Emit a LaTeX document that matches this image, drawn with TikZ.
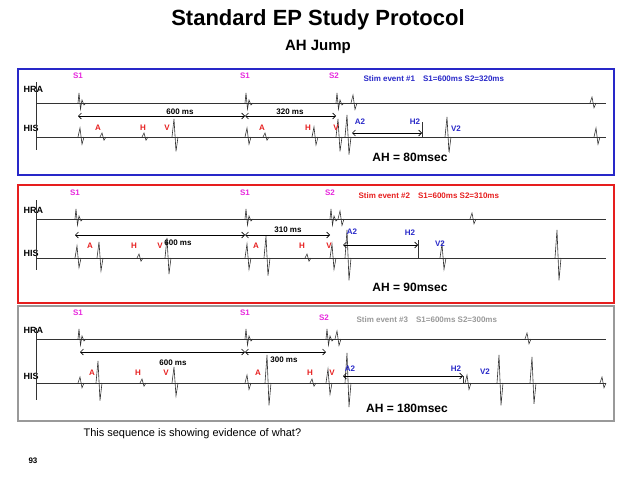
\documentclass[tikz,border=0pt]{standalone}
\usepackage{fontspec}
\setmainfont{Liberation Sans}
\usetikzlibrary{arrows.meta}
\definecolor{stim}{RGB}{230,40,220}
\definecolor{ared}{RGB}{230,30,30}
\definecolor{bblue}{RGB}{40,40,200}
\begin{document}
\begin{tikzpicture}[x=1pt,y=-1pt,
  trace/.style={black!80,line width=0.6pt},
  lead/.style={font=\bfseries\fontsize{9}{9}\selectfont,black},
  stimlbl/.style={font=\bfseries\fontsize{8}{8}\selectfont,text=stim},
  evt/.style={font=\bfseries\fontsize{8}{8}\selectfont},
  ms/.style={font=\bfseries\fontsize{8}{8}\selectfont,black},
  ah/.style={font=\bfseries\fontsize{12}{12}\selectfont,fill=white,inner sep=1pt},
  meas/.style={black,line width=0.6pt,{Straight Barb[length=3pt]}-{Straight Barb[length=3pt]}},
  panel/.style={line width=1.3pt}]
\useasboundingbox (0,0) rectangle (638,479);
\newcommand{\spk}[3]{\draw[trace] (#1,#2) -- ++(1,-#3) -- ++(1.5,1.6*#3) -- ++(1.5,-0.9*#3) -- ++(2,0.5*#3) -- ++(2,-0.2*#3);}
\newcommand{\wig}[3]{\draw[trace] (#1,#2) -- ++(2,-#3) -- ++(2,1.8*#3) -- ++(2,-0.8*#3);}

\node (t1) at (318,20) {\bfseries\fontsize{22}{22}\selectfont Standard EP Study Protocol};
\node (t2) at (318,47) {\bfseries\fontsize{15}{15}\selectfont AH Jump};

% ---------- Panel 1 ----------
\draw[panel,bblue] (18,69) rectangle (614,175);
\node[lead,anchor=west] (h1) at (20,89) {HRA};
\node[lead,anchor=west] (s1) at (20,128) {HIS};
\draw[trace] (36,103) -- (606,103);
\draw[trace] (36,137) -- (606,137);
\draw[trace] (36,82) -- (36,150);
\foreach \x in {78,245,336} {\spk{\x}{103}{10}}
\wig{351}{103}{8}\wig{590}{103}{6}
\foreach \x/\a in {78/9,100/4,142/4,172/18,245/9,263/4,312/10,336/18,345/22,445/20,594/9} {\wig{\x}{137}{\a}}
\node[stimlbl] (p1) at (78,76) {S1};
\node[stimlbl] (p2) at (245,76) {S1};
\node[stimlbl] (p3) at (334,76) {S2};
\node[evt,text=bblue,anchor=west] (e1) at (360,79) {Stim event \#1\quad S1=600ms S2=320ms};
\draw[meas] (78,116) -- (245,116); \draw[meas] (245,116) -- (336,116);
\node[ms] (m1) at (180,112) {600 ms};
\node[ms] (m2) at (290,112) {320 ms};
\foreach \x/\l in {98/A,143/H,167/V,262/A,308/H,336/V} {\node[evt,text=ared] at (\x,128) {\l};}
\node[evt,text=bblue] (a21) at (360,122) {A2};
\node[evt,text=bblue] (h21) at (415,122) {H2};
\node[evt,text=bblue] (v21) at (456,129) {V2};
\draw[meas] (352,133) -- (422,133);
\draw[trace] (422,122) -- (422,137);
\node[ah] (ah1) at (410,157) {AH = 80msec};

% ---------- Panel 2 ----------
\draw[panel,ared] (18,185) rectangle (614,303);
\node[lead,anchor=west] (h2) at (20,210) {HRA};
\node[lead,anchor=west] (s2) at (20,253) {HIS};
\draw[trace] (36,219) -- (606,219);
\draw[trace] (36,258) -- (606,258);
\draw[trace] (36,200) -- (36,270);
\foreach \x in {75,245,330} {\spk{\x}{219}{10}}
\wig{338}{219}{8}\wig{470}{219}{6}
\foreach \x/\a in {75/12,97/16,137/4,165/20,245/14,264/22,305/4,330/14,345/28,440/14,555/28} {\wig{\x}{258}{\a}}
\node[stimlbl] (q1) at (75,193) {S1};
\node[stimlbl] (q2) at (245,193) {S1};
\node[stimlbl] (q3) at (330,193) {S2};
\node[evt,text=ared,anchor=west] (e2) at (355,196) {Stim event \#2\quad S1=600ms S2=310ms};
\draw[meas] (75,235) -- (245,235); \draw[meas] (245,235) -- (330,235);
\node[ms] (n1) at (178,243) {600 ms};
\node[ms] (n2) at (288,230) {310 ms};
\foreach \x/\l in {90/A,134/H,160/V,256/A,302/H,329/V} {\node[evt,text=ared] at (\x,246) {\l};}
\node[evt,text=bblue] (a22) at (352,232) {A2};
\node[evt,text=bblue] (h22) at (410,233) {H2};
\node[evt,text=bblue] (v22) at (440,244) {V2};
\draw[meas] (343,245) -- (418,245);
\draw[trace] (418,240) -- (418,258);
\node[ah] (ah2) at (410,287) {AH = 90msec};

% ---------- Panel 3 ----------
\draw[panel,gray!80] (18,306) rectangle (614,421);
\node[lead,anchor=west] (h3) at (20,330) {HRA};
\node[lead,anchor=west] (s3) at (20,376) {HIS};
\draw[trace] (36,339) -- (606,339);
\draw[trace] (36,383) -- (606,383);
\draw[trace] (36,328) -- (36,400);
\foreach \x in {78,245,326} {\spk{\x}{339}{10}}
\wig{335}{339}{8}\wig{525}{339}{6}
\foreach \x/\a in {78/6,96/22,140/4,172/16,245/8,265/28,310/4,326/14,345/30,465/8,497/28,530/26,600/6} {\wig{\x}{383}{\a}}
\node[stimlbl] (r1) at (78,313) {S1};
\node[stimlbl] (r2) at (245,313) {S1};
\node[stimlbl] (r3) at (324,318) {S2};
\node[evt,text=gray!80,anchor=west] (e3) at (353,320) {Stim event \#3\quad S1=600ms S2=300ms};
\draw[meas] (80,352) -- (245,352); \draw[meas] (245,352) -- (326,352);
\node[ms] (o1) at (173,363) {600 ms};
\node[ms] (o2) at (284,360) {300 ms};
\foreach \x/\l in {92/A,138/H,166/V,258/A,310/H,332/V} {\node[evt,text=ared] at (\x,373) {\l};}
\node[evt,text=bblue] (a23) at (350,369) {A2};
\node[evt,text=bblue] (h23) at (456,369) {H2};
\node[evt,text=bblue] (v23) at (485,372) {V2};
\draw[meas] (343,376) -- (463,376);
\draw[trace] (463,376) -- (463,383);
\node[ah] (ah3) at (407,408) {AH = 180msec};

\node[anchor=west,font=\fontsize{11}{11}\selectfont] (q) at (80,434) {This sequence is showing evidence of what?};
\node[anchor=west,font=\bfseries\fontsize{8}{8}\selectfont] (pg) at (25,461) {93};
\end{tikzpicture}
\end{document}
